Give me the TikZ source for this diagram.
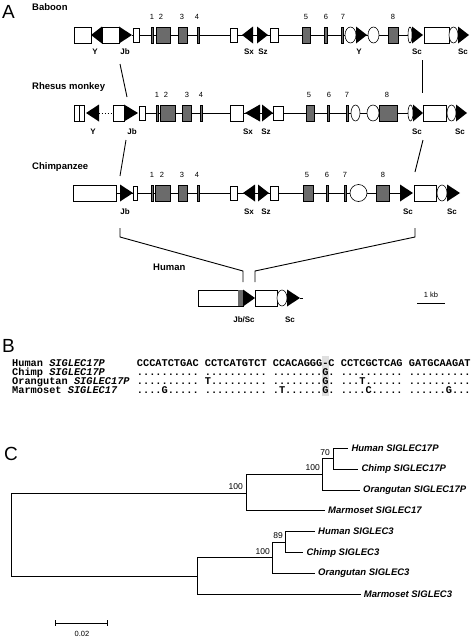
\documentclass[tikz,border=0pt]{standalone}
\usepackage{fontspec}
\setmainfont{Liberation Sans}
\setmonofont{Liberation Mono}
\usetikzlibrary{positioning}
\definecolor{exongray}{gray}{0.42}
\tikzstyle{gene} = [line width=0.9pt]
\tikzstyle{exon} = [draw=black, line width=0.5pt, fill=exongray]
\tikzstyle{ubox} = [draw=black, line width=0.6pt, fill=white]
\tikzstyle{species} = [font=\fontsize{9.5}{10}\selectfont\bfseries, anchor=base west, inner sep=0pt]
\tikzstyle{rep} = [font=\fontsize{8}{9}\selectfont\bfseries, inner sep=0pt]
\tikzstyle{exnum} = [font=\fontsize{7.5}{8}\selectfont, inner sep=0pt]
\tikzstyle{panel} = [font=\fontsize{19}{20}\selectfont, anchor=base west, inner sep=0pt]
\tikzstyle{link} = [line width=0.9pt]
\tikzstyle{seq} = [font=\fontsize{10.3}{11}\selectfont\ttfamily\bfseries, anchor=base west, inner sep=0pt]
\tikzstyle{branch} = [line width=0.9pt]
\tikzstyle{taxon} = [font=\fontsize{9.5}{10}\selectfont\bfseries\itshape, anchor=west, inner sep=3pt]
\tikzstyle{boot} = [font=\fontsize{8.5}{9}\selectfont, anchor=south east, inner sep=1pt]

% gene map pieces: (left x, right x, row y)
\newcommand{\genebox}[3]{\draw[ubox] (#1,#3-8) rectangle (#2,#3+8);}
\newcommand{\thinbox}[3]{\draw[ubox] (#1,#3-7) rectangle (#2,#3+7);}
\newcommand{\exonbox}[3]{\draw[exon] (#1,#3-8) rectangle (#2,#3+8);}
\newcommand{\exonbar}[2]{\draw[exon] (#1-1,#2-8) rectangle (#1+1,#2+8);}
\newcommand{\fwdtri}[3]{\fill (#1,#3-8.5) -- (#2,#3) -- (#1,#3+8.5) -- cycle;}
\newcommand{\revtri}[3]{\fill (#2,#3-8.5) -- (#1,#3) -- (#2,#3+8.5) -- cycle;}
\newcommand{\geneoval}[3]{\draw[ubox] ({(#1+#2)/2},#3) ellipse [x radius={(#2-#1)/2}, y radius=8];}

\begin{document}
\begin{tikzpicture}[x=1pt, y=-1pt]
\useasboundingbox (0,0) rectangle (474,640);

% Panel A
\node (pa) [panel] at (2,18) {A};

% Baboon
\node (baboon) [species] at (32,10) {Baboon};
\draw [gene] (132,35) -- (412,35);
\genebox{74}{91}{35}
\revtri{91}{102}{35}
\genebox{102}{119}{35}
\fwdtri{119}{132}{35}
\thinbox{133}{139}{35}
\exonbar{152}{35}
\exonbox{156}{170}{35}
\exonbox{178}{187}{35}
\exonbar{198}{35}
\thinbox{230}{237}{35}
\revtri{242}{253}{35}
\fwdtri{257}{268}{35}
\thinbox{270}{278}{35}
\exonbox{302}{310}{35}
\exonbox{324}{327}{35}
\exonbar{342}{35}
\geneoval{345}{356}{35}
\fwdtri{356}{367}{35}
\geneoval{368}{379}{35}
\exonbox{388}{398}{35}
\geneoval{408}{412}{35}
\fwdtri{412}{423}{35}
\genebox{424}{449}{35}
\geneoval{449}{458}{35}
\fwdtri{458}{469}{35}
\foreach \x/\n in {152/1,161/2,182/3,197/4,306/5,326/6,343/7,393/8}
  \node (bn\n) [exnum] at (\x,17) {\n};
\foreach \x/\t/\k in {95/Y/1,125/Jb/2,249/Sx/3,263/Sz/4,359/Y/5,417/Sc/6,463/Sc/7}
  \node (br\k) [rep] at (\x,52) {\t};

% Rhesus monkey
\node (rhesus) [species] at (32,89) {Rhesus monkey};
\draw [gene] (145,113) -- (412,113);
\draw [gene, dotted] (99,113) -- (113,113);
\genebox{74}{79}{113}
\genebox{79}{84}{113}
\revtri{86}{99}{113}
\genebox{113}{124}{113}
\fwdtri{124}{138}{113}
\thinbox{139}{145}{113}
\exonbar{157}{113}
\exonbox{160}{175}{113}
\exonbox{182}{191}{113}
\exonbar{201}{113}
\genebox{230}{243}{113}
\revtri{245}{260}{113}
\fwdtri{262}{273}{113}
\thinbox{273}{283}{113}
\exonbox{306}{314}{113}
\exonbar{328}{113}
\exonbar{347}{113}
\geneoval{351}{360}{113}
\geneoval{367}{379}{113}
\exonbox{379}{397}{113}
\geneoval{408}{413}{113}
\fwdtri{413}{423}{113}
\genebox{423}{446}{113}
\geneoval{447}{456}{113}
\fwdtri{456}{467}{113}
\foreach \x/\n in {157/1,166/2,187/3,201/4,309/5,329/6,347/7,387/8}
  \node (rn\n) [exnum] at (\x,95) {\n};
\foreach \x/\t/\k in {93/Y/1,132/Jb/2,248/Sx/3,266/Sz/4,417/Sc/5,460/Sc/6}
  \node (rr\k) [rep] at (\x,132) {\t};

% Chimpanzee
\node (chimp) [species] at (32,169) {Chimpanzee};
\draw [gene] (116,193) -- (412,193);
\genebox{73}{116}{193}
\fwdtri{120}{133}{193}
\thinbox{133}{137}{193}
\exonbar{152}{193}
\exonbox{155}{170}{193}
\exonbox{178}{187}{193}
\exonbar{198}{193}
\thinbox{230}{237}{193}
\revtri{243}{255}{193}
\fwdtri{258}{269}{193}
\thinbox{270}{278}{193}
\exonbox{303}{313}{193}
\exonbar{327}{193}
\exonbar{345}{193}
\draw [ubox] (358.5,193) circle [radius=8.5];
\exonbox{376}{389}{193}
\fwdtri{400}{413}{193}
\genebox{414}{436}{193}
\geneoval{437}{447}{193}
\fwdtri{447}{460}{193}
\foreach \x/\n in {152/1,162/2,182/3,197/4,307/5,327/6,345/7,383/8}
  \node (cn\n) [exnum] at (\x,175) {\n};
\foreach \x/\t/\k in {125/Jb/1,249/Sx/2,266/Sz/3,408/Sc/4,452/Sc/5}
  \node (cr\k) [rep] at (\x,212) {\t};

% Human
\node (human) [species] at (153,270) {Human};
\genebox{198}{243}{298}
\fill [exongray] (237.5,290.3) rectangle (242.7,305.7);
\fwdtri{243}{255}{298}
\genebox{255}{277}{298}
\geneoval{277}{287}{298}
\fwdtri{287}{300}{298}
\draw [gene] (300,298) -- (303,298);
\node (hr1) [rep] at (244,320) {Jb/Sc};
\node (hr2) [rep] at (290,320) {Sc};

% scale bar
\node (kb) [exnum] at (431,295) {1 kb};
\draw [gene] (417,303) -- (445,303);

% Connections between maps
\coordinate (bJb) at (120,64);
\coordinate (rJbt) at (127,97);
\coordinate (bSc) at (422,60);
\coordinate (rSct) at (422,93);
\coordinate (rJb) at (126,140);
\coordinate (cJbt) at (120,176);
\coordinate (rSc) at (423,140);
\coordinate (cSct) at (415,172);
\coordinate (cJb) at (120,228);
\coordinate (cSc) at (415,228);
\coordinate (hJbt) at (243,282);
\coordinate (hSct) at (255,282);
\draw [link] (bJb) -- (rJbt);
\draw [link] (bSc) -- (rSct);
\draw [link] (rJb) -- (cJbt);
\draw [link] (rSc) -- (cSct);
\draw [link] (cJb) -- ++(0,9) -- (243,271) -- (hJbt);
\draw [link] (cSc) -- ++(0,9) -- (255,271) -- (hSct);

% Panel B
\node (pb) [panel] at (2,352) {B};
\fill [gray!25] (321.6,356) rectangle (328.6,396);
\node (n1) [seq] at (12,366) {Human \textit{SIGLEC17P}};
\node (n2) [seq] at (12,375.3) {Chimp \textit{SIGLEC17P}};
\node (n3) [seq] at (12,384.6) {Orangutan \textit{SIGLEC17P}};
\node (n4) [seq] at (12,393.9) {Marmoset \textit{SIGLEC17}};
\node (s1) [seq] at (136.7,366) {CCCATCTGAC CCTCATGTCT CCACAGGG-C CCTCGCTCAG GATGCAAGAT};
\node (s2) [seq] at (136.7,375.3) {.......... .......... ........G. .......... ..........};
\node (s3) [seq] at (136.7,384.6) {.......... T......... ........G. ...T...... ..........};
\node (s4) [seq] at (136.7,393.9) {....G..... .......... .T......G. ....C..... ......G...};

% Panel C
\node (pc) [panel] at (4,460) {C};
\coordinate (root) at (11,534.7);
\coordinate (cA) at (246,493);
\coordinate (cA1) at (322.7,474.3);
\coordinate (cA2) at (333.3,458.3);
\coordinate (cB) at (197.3,576);
\coordinate (cB1) at (272.7,557.5);
\coordinate (cB2) at (285,542.2);
\node (h17) [taxon] at (348.3,448.3) {Human SIGLEC17P};
\node (c17) [taxon] at (358.3,469.3) {Chimp SIGLEC17P};
\node (o17) [taxon] at (360,490) {Orangutan SIGLEC17P};
\node (m17) [taxon] at (325,510.7) {Marmoset SIGLEC17};
\node (h3) [taxon] at (315,531.7) {Human SIGLEC3};
\node (c3) [taxon] at (303.3,552.7) {Chimp SIGLEC3};
\node (o3) [taxon] at (315,573.3) {Orangutan SIGLEC3};
\node (m3) [taxon] at (360.7,594.3) {Marmoset SIGLEC3};
\draw [branch] (root) |- (cA);
\draw [branch] (root) |- (cB);
\draw [branch] (cA) |- (cA1);
\draw [branch] (cA) |- (m17.west);
\draw [branch] (cA1) |- (cA2);
\draw [branch] (cA1) |- (o17.west);
\draw [branch] (cA2) |- (h17.west);
\draw [branch] (cA2) |- (c17.west);
\draw [branch] (cB) |- (cB1);
\draw [branch] (cB) |- (m3.west);
\draw [branch] (cB1) |- (cB2);
\draw [branch] (cB1) |- (o3.west);
\draw [branch] (cB2) |- (h3.west);
\draw [branch] (cB2) |- (c3.west);
\node (b1) [boot] at (331,457) {70};
\node (b2) [boot] at (321,472) {100};
\node (b3) [boot] at (244,491) {100};
\node (b4) [boot] at (284,540) {89};
\node (b5) [boot] at (271,556) {100};

% scale bar
\coordinate (sl) at (55,623);
\coordinate (sr) at (107,623);
\draw [branch] (sl) -- (sr);
\draw [branch] (sl) ++(0,-3) -- ++(0,6);
\draw [branch] (sr) ++(0,-3) -- ++(0,6);
\node (sc) [exnum] at (82,634) {0.02};

\end{tikzpicture}
\end{document}
